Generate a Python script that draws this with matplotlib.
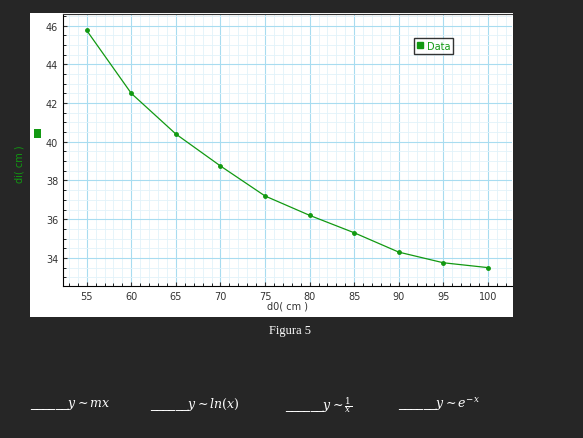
import matplotlib
matplotlib.use("Agg")
import matplotlib.pyplot as plt
from matplotlib.patches import Rectangle
from matplotlib.ticker import MultipleLocator

d0 = [55, 60, 65, 70, 75, 80, 85, 90, 95, 100]
di = [45.75, 42.5, 40.4, 38.75, 37.2, 36.2, 35.3, 34.3, 33.75, 33.5]
xticks = [55, 60, 65, 70, 75, 80, 85, 90, 95, 100]
yticks = [34, 36, 38, 40, 42, 44, 46]

plt.rcParams['mathtext.fontset'] = 'dejavuserif'
W, H = 583, 439
fig = plt.figure(figsize=(W/100, H/100), dpi=100)
fig.patch.set_facecolor('#262626')
fig.patches.append(Rectangle((30/W, 1-318/H), 483/W, 304/H, transform=fig.transFigure,
                             facecolor='white', edgecolor='none', zorder=0))
ax = fig.add_axes([63/W, 1-287/H, 449/W, 272/H])
ax.set_zorder(1)
green = '#129912'
ax.plot(d0, di, color=green, lw=0.9, marker='o', ms=2.5, label='Data')
ax.set_xlim(52.34, 102.7)
ax.set_ylim(32.55, 46.6)
ax.set_xticks(xticks)
ax.set_yticks(yticks)
ax.xaxis.set_minor_locator(MultipleLocator(1))
ax.yaxis.set_minor_locator(MultipleLocator(0.5))
ax.grid(which='major', color='#a8dcf0', lw=0.8)
ax.grid(which='minor', color='#e2f2fa', lw=0.6)
ax.set_axisbelow(True)
ax.tick_params(labelsize=7, length=3, colors='#333333', direction='in')
ax.tick_params(which='minor', length=2, direction='in')
ax.spines['right'].set_visible(False)
ax.spines['top'].set_color('#333333')
ax.set_xlabel('d0( cm )', fontsize=7, labelpad=0, color='#333333')
ax.set_ylabel('di( cm )', fontsize=7, color=green, labelpad=2)
ax.yaxis.set_label_coords(-0.085, 0.45)
fig.patches.append(Rectangle((34/W, 1-139/H), 7/W, 9/H, transform=fig.transFigure,
                             facecolor=green, edgecolor='none', zorder=3))
leg = ax.legend(loc='upper right', bbox_to_anchor=(0.88, 0.93), fontsize=7, handlelength=0.6,
                handletextpad=0.4, frameon=True, fancybox=False, borderpad=0.3,
                markerscale=2)
leg.get_frame().set_edgecolor('black')
for t in leg.get_texts():
    t.set_color(green)
for h in leg.legend_handles:
    h.set_linestyle('none'); h.set_marker('s')

fig.text(290/W, 1-331/H, 'Figura 5', color='white', family='Liberation Serif',
         fontsize=9, ha='center', va='center')
y = 1-405/H
fig.text(30/W, y, r'______$y \sim mx$', color='white', fontsize=9, va='center')
fig.text(150/W, y, r'______$y \sim ln(x)$', color='white', fontsize=9, va='center')
fig.text(285/W, y, r'______$y \sim \frac{1}{x}$', color='white', fontsize=9, va='center')
fig.text(398/W, y, r'______$y \sim e^{-x}$', color='white', fontsize=9, va='center')
fig.savefig('out.png', dpi=100, facecolor=fig.get_facecolor())
